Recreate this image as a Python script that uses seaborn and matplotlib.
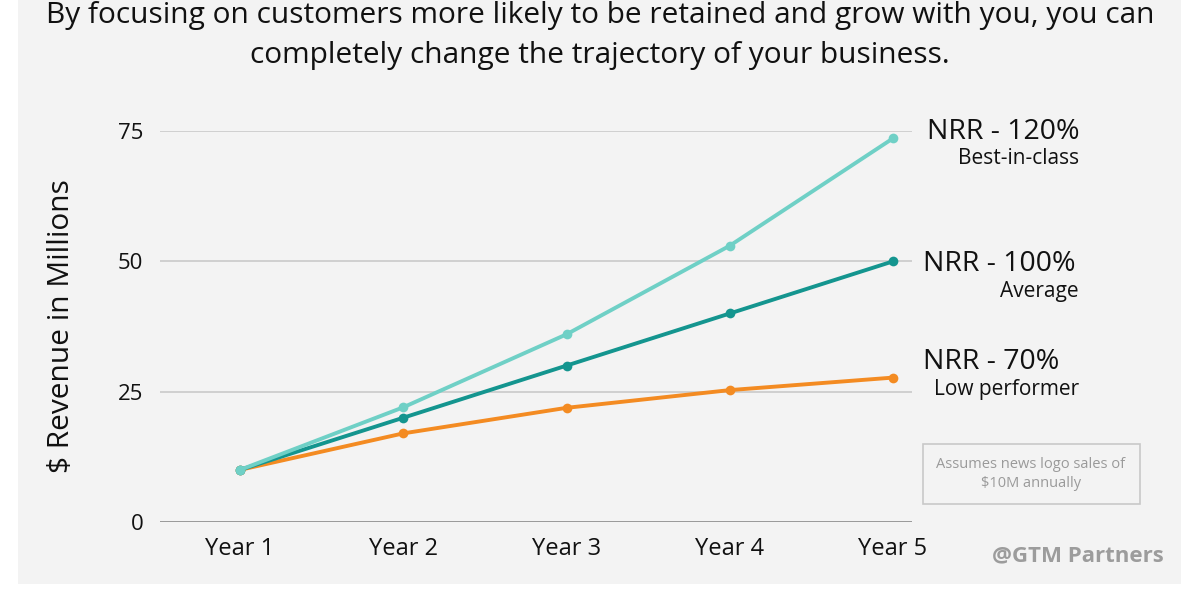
import pandas as pd
import seaborn as sns
import matplotlib.pyplot as plt
from matplotlib.patches import Rectangle

years = ['Year 1', 'Year 2', 'Year 3', 'Year 4', 'Year 5']
nrr_120 = [10, 22, 36, 53, 73.6]
nrr_100 = [10, 20, 30, 40, 50]
nrr_70 = [10, 17, 21.9, 25.3, 27.7]
series_names = ['NRR - 120%', 'NRR - 100%', 'NRR - 70%']
series_notes = ['Best-in-class', 'Average', 'Low performer']
colors = ['#6fd0c6', '#14958f', '#f38b22']
y_ticks = [0, 25, 50, 75]

rows = []
for name, vals in zip(series_names, [nrr_120, nrr_100, nrr_70]):
    for i, v in enumerate(vals):
        rows.append({'pos': i, 'year': years[i], 'revenue': v, 'series': name})
df = pd.DataFrame(rows)

sns.set_style('white')
plt.rcParams['font.family'] = ['Open Sans', 'DejaVu Sans']

fig = plt.figure(figsize=(12, 6), dpi=100)
fig.patch.set_facecolor('white')
fig.patches.append(Rectangle((18 / 1200, 16 / 600), 1163 / 1200, 584 / 600,
                             transform=fig.transFigure, facecolor='#f3f3f3',
                             edgecolor='none', zorder=-10))

ax = fig.add_axes([160 / 1200, 78 / 600, 752 / 1200, 391 / 600])
ax.set_facecolor('none')

# draw series in order so the light line sits on top at Year 1
order = ['NRR - 70%', 'NRR - 100%', 'NRR - 120%']
pal = dict(zip(series_names, colors))
sns.lineplot(data=df, x='pos', y='revenue', hue='series', hue_order=order,
             palette=pal, marker='o', markersize=7, markeredgewidth=0,
             linewidth=2.8, legend=False, ax=ax)
for line in ax.lines:
    line.set_clip_on(False)

ax.set_xlim(-0.49, 4.116)
ax.set_ylim(0, 75)
ax.set_yticks(y_ticks)
ax.set_yticklabels([str(t) for t in y_ticks], fontsize=16)
ax.set_xticks(range(len(years)))
ax.set_xticklabels(years, fontsize=17)
ax.tick_params(axis='both', length=0, colors='#111111')
ax.tick_params(axis='y', pad=12)
ax.tick_params(axis='x', pad=11)
for t in y_ticks[1:]:
    ax.axhline(t, color='#c9c9c9', linewidth=1.2, zorder=0)
ax.axhline(0, color='#8a8a8a', linewidth=1.2, zorder=0)
sns.despine(ax=ax, left=True, bottom=True)
ax.set_xlabel('')
ax.set_ylabel('$ Revenue in Millions', fontsize=21.5, color='#111111', labelpad=30)

fig.text(0.5, 1 - 15 / 600,
         'By focusing on customers more likely to be retained and grow with you, you can',
         ha='center', va='center', fontsize=21.5, color='#111111')
fig.text(0.5, 1 - 55 / 600,
         'completely change the trajectory of your business.',
         ha='center', va='center', fontsize=21.5, color='#111111')

label_y = [132, 264, 362]
note_y = [159, 291, 389]
label_x = [927, 923, 923]
for name, note, ly, ny, lx in zip(series_names, series_notes, label_y, note_y, label_x):
    fig.text(lx / 1200, 1 - ly / 600, name, ha='left', va='center',
             fontsize=20.5, color='#111111')
    fig.text(1079 / 1200, 1 - ny / 600, note, ha='right', va='center',
             fontsize=15, color='#111111')

fig.patches.append(Rectangle((923 / 1200, 1 - 504 / 600), 217 / 1200, 60 / 600,
                             transform=fig.transFigure, facecolor='none',
                             edgecolor='#c8c8c8', linewidth=1.2))
fig.text(1031 / 1200, 1 - 474 / 600, 'Assumes news logo sales of\n$10M annually',
         ha='center', va='center', fontsize=10.5, color='#9a9a9a', linespacing=1.4)

fig.text(1164 / 1200, 1 - 556 / 600, '@GTM Partners', ha='right', va='center',
         fontsize=16, fontweight='bold', color='#9c9c9c')

fig.savefig('out.png', dpi=100)
